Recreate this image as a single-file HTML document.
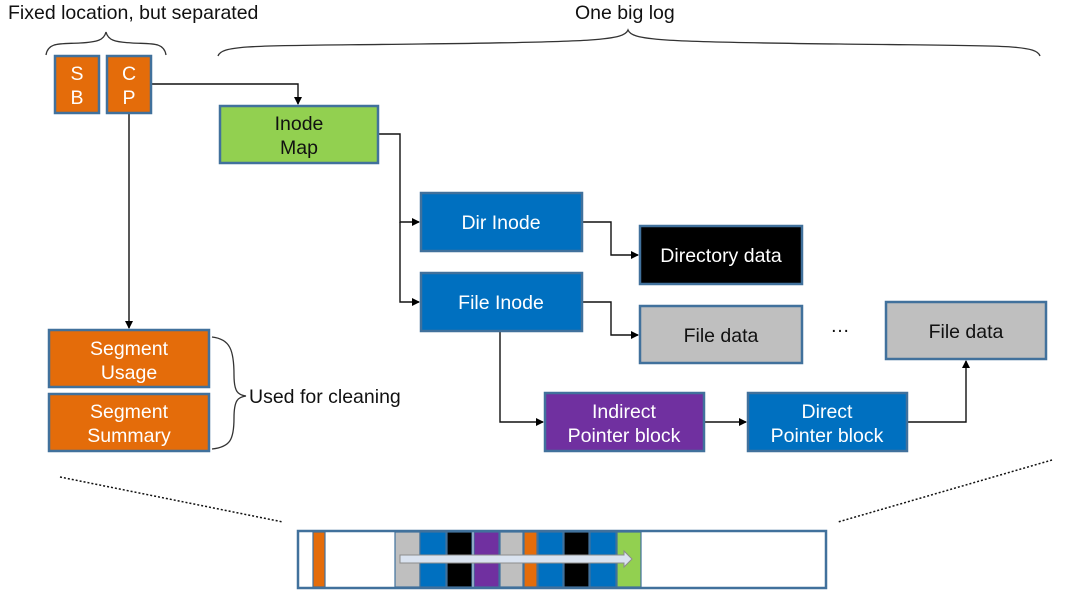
<!DOCTYPE html>
<html><head><meta charset="utf-8"><style>
html,body{margin:0;padding:0;background:#fff;}
svg{display:block;font-family:"Liberation Sans",Arial,sans-serif;}
</style></head><body>
<svg width="1080" height="600" viewBox="0 0 1080 600" xmlns="http://www.w3.org/2000/svg">
<defs>
<marker id="a" markerWidth="8" markerHeight="8" refX="7" refY="4" orient="auto" markerUnits="userSpaceOnUse">
<path d="M0,0 L8,4 L0,8 z" fill="#000"/></marker>
</defs>
<text x="8" y="19" font-size="19.5" fill="#111">Fixed location, but separated</text>
<text x="575" y="19" font-size="19.5" fill="#111">One big log</text>
<!-- braces -->
<path d="M46,55 C48,42 60,44 80,43 C98,42 104,40 106,32 C108,40 114,42 132,43 C152,44 164,42 166,55" fill="none" stroke="#333" stroke-width="1.3"/>
<path d="M218,56 C222,44 260,46 420,44 C600,42 624,40 628,30 C632,40 656,42 840,44 C1000,46 1036,44 1040,56" fill="none" stroke="#333" stroke-width="1.3"/>
<path d="M212,337 C230,339 234,350 234,375 C234,392 238,395 246,396 C238,397 234,400 234,418 C234,440 230,447 212,449" fill="none" stroke="#333" stroke-width="1.3"/>
<text x="249" y="403" font-size="19.5" fill="#111">Used for cleaning</text>
<!-- connectors -->
<g fill="none" stroke="#111" stroke-width="1.4">
<path d="M151,84 H298 V104" marker-end="url(#a)"/>
<path d="M129,113 V328" marker-end="url(#a)"/>
<path d="M378,134 H400 V222 H419" marker-end="url(#a)"/>
<path d="M400,222 V302 H419" marker-end="url(#a)"/>
<path d="M582,222 H611 V255 H638" marker-end="url(#a)"/>
<path d="M582,302 H611 V335 H638" marker-end="url(#a)"/>
<path d="M500,331 V422 H543" marker-end="url(#a)"/>
<path d="M704,422 H746" marker-end="url(#a)"/>
<path d="M907,422 H966 V361" marker-end="url(#a)"/>
</g>
<!-- boxes -->
<g stroke="#41719c" stroke-width="2.5">
<rect x="55" y="56" width="44" height="57" fill="#e46c0a"/>
<rect x="107" y="56" width="44" height="57" fill="#e46c0a"/>
<rect x="220" y="106" width="158" height="57" fill="#92d050"/>
<rect x="421" y="193" width="161" height="58" fill="#0070c0"/>
<rect x="640" y="226" width="162" height="58" fill="#000"/>
<rect x="421" y="273" width="161" height="58" fill="#0070c0"/>
<rect x="640" y="306" width="162" height="57" fill="#bfbfbf"/>
<rect x="886" y="302" width="160" height="57" fill="#bfbfbf"/>
<rect x="545" y="393" width="159" height="58" fill="#7030a0"/>
<rect x="748" y="393" width="159" height="58" fill="#0070c0"/>
<rect x="49" y="330" width="160" height="57" fill="#e46c0a"/>
<rect x="49" y="394" width="160" height="57" fill="#e46c0a"/>
</g>
<g font-size="19.5" text-anchor="middle" fill="#fff">
<text x="77" y="80">S</text><text x="77" y="104">B</text>
<text x="129" y="80">C</text><text x="129" y="104">P</text>
<text x="299" y="130" fill="#111">Inode</text><text x="299" y="154" fill="#111">Map</text>
<text x="501" y="229">Dir Inode</text>
<text x="721" y="262">Directory data</text>
<text x="501" y="309">File Inode</text>
<text x="721" y="342" fill="#111">File data</text>
<text x="966" y="338" fill="#111">File data</text>
<text x="624" y="418">Indirect</text><text x="624" y="442">Pointer block</text>
<text x="827" y="418">Direct</text><text x="827" y="442">Pointer block</text>
<text x="129" y="355">Segment</text><text x="129" y="379">Usage</text>
<text x="129" y="418">Segment</text><text x="129" y="442">Summary</text>
</g>
<text x="840" y="332" font-size="19.5" text-anchor="middle" fill="#111">…</text>
<!-- dotted lines -->
<path d="M60,477 L283,522" stroke="#111" stroke-width="1.5" stroke-dasharray="2,2"/>
<path d="M1052,460 L838,522" stroke="#111" stroke-width="1.5" stroke-dasharray="2,2"/>
<!-- bottom log -->
<rect x="298" y="531" width="528" height="57" fill="#fff" stroke="#41719c" stroke-width="2.5"/>
<g stroke="#41719c" stroke-width="1.2">
<rect x="313" y="532" width="12" height="55" fill="#e46c0a"/>
<rect x="395" y="532" width="25" height="55" fill="#bfbfbf"/>
<rect x="420" y="532" width="26" height="55" fill="#0070c0"/>
<rect x="447" y="532" width="25" height="55" fill="#000"/>
<rect x="474" y="532" width="25" height="55" fill="#7030a0"/>
<rect x="500" y="532" width="23" height="55" fill="#bfbfbf"/>
<rect x="524" y="532" width="13" height="55" fill="#e46c0a"/>
<rect x="538" y="532" width="25" height="55" fill="#0070c0"/>
<rect x="564" y="532" width="25" height="55" fill="#000"/>
<rect x="590" y="532" width="26" height="55" fill="#0070c0"/>
<rect x="617" y="532" width="24" height="55" fill="#92d050"/>
</g>
<path d="M400,555 H624 V551 L632,559 L624,567 V563 H400 z" fill="#dae3f0" stroke="#8c8c8c" stroke-width="1"/>
</svg>
</body></html>
